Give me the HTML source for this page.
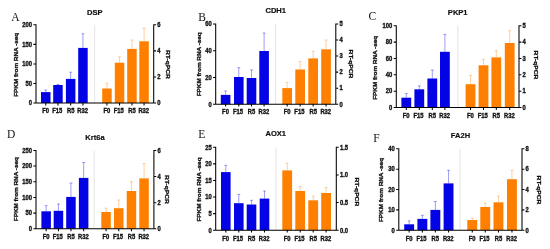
<!DOCTYPE html>
<html><head><meta charset="utf-8"><title>Figure</title>
<style>
html,body{margin:0;padding:0;background:#fff;}
svg{display:block;}
text{font-family:"Liberation Sans",Arial,sans-serif;font-weight:bold;fill:#111;stroke:#111;stroke-width:0.3px;}
.t{font-size:5.85px;}
.l{font-size:5.8px;}
.h{font-size:7.55px;stroke-width:0.2px;}
.s{font-family:"Liberation Serif","Times New Roman",serif;font-weight:normal;font-size:11.5px;fill:#111;stroke:none;}
</style></head><body>
<svg width="550" height="249" viewBox="0 0 550 249">
<rect width="550" height="249" fill="#fff"/>
<g>
<line x1="94.6" y1="24.8" x2="94.6" y2="103" stroke="#e6e6e6" stroke-width="1.1"/>
<path d="M45.75 92.1V90M44.3 90H47.2" stroke="#0303e6" stroke-width="0.55" fill="none" opacity="0.7"/>
<rect x="41" y="92.1" width="9.5" height="10.9" fill="#0303e6"/>
<path d="M57.95 85V84.5M56.5 84.5H59.4" stroke="#0303e6" stroke-width="0.55" fill="none" opacity="0.7"/>
<rect x="53.2" y="85" width="9.5" height="18" fill="#0303e6"/>
<path d="M70.65 78.9V72.2M69.2 72.2H72.1" stroke="#0303e6" stroke-width="0.55" fill="none" opacity="0.7"/>
<rect x="65.9" y="78.9" width="9.5" height="24.1" fill="#0303e6"/>
<path d="M82.95 47.9V33.8M81.5 33.8H84.4" stroke="#0303e6" stroke-width="0.55" fill="none" opacity="0.7"/>
<rect x="78.2" y="47.9" width="9.5" height="55.1" fill="#0303e6"/>
<path d="M106.95 88.5V83.3M105.5 83.3H108.4" stroke="#ff8000" stroke-width="0.55" fill="none" opacity="0.7"/>
<rect x="102.2" y="88.5" width="9.5" height="14.5" fill="#ff8000"/>
<path d="M119.55 62.7V56.8M118.1 56.8H121" stroke="#ff8000" stroke-width="0.55" fill="none" opacity="0.7"/>
<rect x="114.8" y="62.7" width="9.5" height="40.3" fill="#ff8000"/>
<path d="M131.95 48.9V40M130.5 40H133.4" stroke="#ff8000" stroke-width="0.55" fill="none" opacity="0.7"/>
<rect x="127.2" y="48.9" width="9.5" height="54.1" fill="#ff8000"/>
<path d="M144.05 41.25V28.2M142.6 28.2H145.5" stroke="#ff8000" stroke-width="0.55" fill="none" opacity="0.7"/>
<rect x="139.3" y="41.25" width="9.5" height="61.75" fill="#ff8000"/>
<path d="M36 24.3V103H153.7V24.3M36 103h-2.6M36 83.45h-2.6M36 63.9h-2.6M36 44.35h-2.6M36 24.8h-2.6M153.7 103h2.4M153.7 76.93h2.4M153.7 50.87h2.4M153.7 24.8h2.4M45.75 103v2.4M57.95 103v2.4M70.65 103v2.4M82.95 103v2.4M106.95 103v2.4M119.55 103v2.4M131.95 103v2.4M144.05 103v2.4" stroke="#000" stroke-width="1.05" fill="none"/>
<text class="t" transform="translate(32 105.3) scale(1 1.1)" text-anchor="end">0</text>
<text class="t" transform="translate(32 85.75) scale(1 1.1)" text-anchor="end">50</text>
<text class="t" transform="translate(32 66.2) scale(1 1.1)" text-anchor="end">100</text>
<text class="t" transform="translate(32 46.65) scale(1 1.1)" text-anchor="end">150</text>
<text class="t" transform="translate(32 27.1) scale(1 1.1)" text-anchor="end">200</text>
<text class="t" transform="translate(157.3 105.3) scale(1 1.1)">0</text>
<text class="t" transform="translate(157.3 79.23) scale(1 1.1)">2</text>
<text class="t" transform="translate(157.3 53.17) scale(1 1.1)">4</text>
<text class="t" transform="translate(157.3 27.1) scale(1 1.1)">6</text>
<text class="t" transform="translate(45.65 112.9) scale(1 1.1)" text-anchor="middle">F0</text>
<text class="t" transform="translate(57.15 112.9) scale(1 1.1)" text-anchor="middle">F15</text>
<text class="t" transform="translate(70.65 112.9) scale(1 1.1)" text-anchor="middle">R5</text>
<text class="t" transform="translate(82.65 112.9) scale(1 1.1)" text-anchor="middle">R32</text>
<text class="t" transform="translate(106.85 112.9) scale(1 1.1)" text-anchor="middle">F0</text>
<text class="t" transform="translate(118.75 112.9) scale(1 1.1)" text-anchor="middle">F15</text>
<text class="t" transform="translate(131.95 112.9) scale(1 1.1)" text-anchor="middle">R5</text>
<text class="t" transform="translate(143.75 112.9) scale(1 1.1)" text-anchor="middle">R32</text>
<text class="l" text-anchor="middle" transform="translate(18.1 64.8) scale(1 1.1) rotate(-90)">FPKM from RNA -seq</text>
<text class="l" style="font-size:6.05px" text-anchor="middle" transform="translate(165.9 64.4) scale(1 1.1) rotate(90)">RT-qPCR</text>
<text class="h" transform="translate(94.8 14.5) scale(1 1.07)" text-anchor="middle">DSP</text>
<text class="s" x="11.3" y="20.6">A</text>
</g>
<g>
<line x1="275.6" y1="24" x2="275.6" y2="104.2" stroke="#e6e6e6" stroke-width="1.1"/>
<path d="M225.6 94.9V91M224.15 91H227.05" stroke="#0303e6" stroke-width="0.55" fill="none" opacity="0.7"/>
<rect x="220.8" y="94.9" width="9.6" height="9.3" fill="#0303e6"/>
<path d="M238.8 77V67.7M237.35 67.7H240.25" stroke="#0303e6" stroke-width="0.55" fill="none" opacity="0.7"/>
<rect x="234" y="77" width="9.6" height="27.2" fill="#0303e6"/>
<path d="M251.5 78V69.9M250.05 69.9H252.95" stroke="#0303e6" stroke-width="0.55" fill="none" opacity="0.7"/>
<rect x="246.7" y="78" width="9.6" height="26.2" fill="#0303e6"/>
<path d="M264.1 51V33M262.65 33H265.55" stroke="#0303e6" stroke-width="0.55" fill="none" opacity="0.7"/>
<rect x="259.3" y="51" width="9.6" height="53.2" fill="#0303e6"/>
<path d="M287.15 88.1V82.5M285.7 82.5H288.6" stroke="#ff8000" stroke-width="0.55" fill="none" opacity="0.7"/>
<rect x="282.3" y="88.1" width="9.7" height="16.1" fill="#ff8000"/>
<path d="M300.15 69.5V61.4M298.7 61.4H301.6" stroke="#ff8000" stroke-width="0.55" fill="none" opacity="0.7"/>
<rect x="295.3" y="69.5" width="9.7" height="34.7" fill="#ff8000"/>
<path d="M313.15 58.4V51.3M311.7 51.3H314.6" stroke="#ff8000" stroke-width="0.55" fill="none" opacity="0.7"/>
<rect x="308.3" y="58.4" width="9.7" height="45.8" fill="#ff8000"/>
<path d="M326.05 49.3V40M324.6 40H327.5" stroke="#ff8000" stroke-width="0.55" fill="none" opacity="0.7"/>
<rect x="321.2" y="49.3" width="9.7" height="54.9" fill="#ff8000"/>
<path d="M215.7 23.5V104.2H335.8V23.5M215.7 104.2h-2.6M215.7 77.47h-2.6M215.7 50.73h-2.6M215.7 24h-2.6M335.8 104.2h2.4M335.8 88.16h2.4M335.8 72.12h2.4M335.8 56.08h2.4M335.8 40.04h2.4M335.8 24h2.4M225.6 104.2v2.4M238.8 104.2v2.4M251.5 104.2v2.4M264.1 104.2v2.4M287.15 104.2v2.4M300.15 104.2v2.4M313.15 104.2v2.4M326.05 104.2v2.4" stroke="#000" stroke-width="1.05" fill="none"/>
<text class="t" transform="translate(211.7 106.5) scale(1 1.1)" text-anchor="end">0</text>
<text class="t" transform="translate(211.7 79.77) scale(1 1.1)" text-anchor="end">20</text>
<text class="t" transform="translate(211.7 53.03) scale(1 1.1)" text-anchor="end">40</text>
<text class="t" transform="translate(211.7 26.3) scale(1 1.1)" text-anchor="end">60</text>
<text class="t" transform="translate(339.4 106.5) scale(1 1.1)">0</text>
<text class="t" transform="translate(339.4 90.46) scale(1 1.1)">1</text>
<text class="t" transform="translate(339.4 74.42) scale(1 1.1)">2</text>
<text class="t" transform="translate(339.4 58.38) scale(1 1.1)">3</text>
<text class="t" transform="translate(339.4 42.34) scale(1 1.1)">4</text>
<text class="t" transform="translate(339.4 26.3) scale(1 1.1)">5</text>
<text class="t" transform="translate(225.5 113.8) scale(1 1.1)" text-anchor="middle">F0</text>
<text class="t" transform="translate(238 113.8) scale(1 1.1)" text-anchor="middle">F15</text>
<text class="t" transform="translate(251.5 113.8) scale(1 1.1)" text-anchor="middle">R5</text>
<text class="t" transform="translate(263.8 113.8) scale(1 1.1)" text-anchor="middle">R32</text>
<text class="t" transform="translate(287.05 113.8) scale(1 1.1)" text-anchor="middle">F0</text>
<text class="t" transform="translate(299.35 113.8) scale(1 1.1)" text-anchor="middle">F15</text>
<text class="t" transform="translate(313.15 113.8) scale(1 1.1)" text-anchor="middle">R5</text>
<text class="t" transform="translate(325.75 113.8) scale(1 1.1)" text-anchor="middle">R32</text>
<text class="l" text-anchor="middle" transform="translate(200.8 64.3) scale(1 1.1) rotate(-90)">FPKM from RNA -seq</text>
<text class="l" style="font-size:6.05px" text-anchor="middle" transform="translate(348.5 64) scale(1 1.1) rotate(90)">RT-qPCR</text>
<text class="h" transform="translate(275.7 12.8) scale(1 1.07)" text-anchor="middle">CDH1</text>
<text class="s" x="198.3" y="20.6">B</text>
</g>
<g>
<line x1="457.8" y1="25.8" x2="457.8" y2="107.5" stroke="#e6e6e6" stroke-width="1.1"/>
<path d="M406.3 97.7V93.5M404.85 93.5H407.75" stroke="#0303e6" stroke-width="0.55" fill="none" opacity="0.7"/>
<rect x="401.4" y="97.7" width="9.8" height="9.8" fill="#0303e6"/>
<path d="M419.3 89.3V85.9M417.85 85.9H420.75" stroke="#0303e6" stroke-width="0.55" fill="none" opacity="0.7"/>
<rect x="414.4" y="89.3" width="9.8" height="18.2" fill="#0303e6"/>
<path d="M432.3 78.5V70M430.85 70H433.75" stroke="#0303e6" stroke-width="0.55" fill="none" opacity="0.7"/>
<rect x="427.4" y="78.5" width="9.8" height="29" fill="#0303e6"/>
<path d="M444.9 51.8V34.4M443.45 34.4H446.35" stroke="#0303e6" stroke-width="0.55" fill="none" opacity="0.7"/>
<rect x="440" y="51.8" width="9.8" height="55.7" fill="#0303e6"/>
<path d="M470.5 84.2V75.5M469.05 75.5H471.95" stroke="#ff8000" stroke-width="0.55" fill="none" opacity="0.7"/>
<rect x="465.6" y="84.2" width="9.8" height="23.3" fill="#ff8000"/>
<path d="M483.5 65.3V59.4M482.05 59.4H484.95" stroke="#ff8000" stroke-width="0.55" fill="none" opacity="0.7"/>
<rect x="478.6" y="65.3" width="9.8" height="42.2" fill="#ff8000"/>
<path d="M496.3 57.4V50.6M494.85 50.6H497.75" stroke="#ff8000" stroke-width="0.55" fill="none" opacity="0.7"/>
<rect x="491.4" y="57.4" width="9.8" height="50.1" fill="#ff8000"/>
<path d="M509.7 43V30.7M508.25 30.7H511.15" stroke="#ff8000" stroke-width="0.55" fill="none" opacity="0.7"/>
<rect x="504.8" y="43" width="9.8" height="64.5" fill="#ff8000"/>
<path d="M396.3 25.3V107.5H519V25.3M396.3 107.5h-2.6M396.3 91.16h-2.6M396.3 74.82h-2.6M396.3 58.48h-2.6M396.3 42.14h-2.6M396.3 25.8h-2.6M519 107.5h2.4M519 91.16h2.4M519 74.82h2.4M519 58.48h2.4M519 42.14h2.4M519 25.8h2.4M406.3 107.5v2.4M419.3 107.5v2.4M432.3 107.5v2.4M444.9 107.5v2.4M470.5 107.5v2.4M483.5 107.5v2.4M496.3 107.5v2.4M509.7 107.5v2.4" stroke="#000" stroke-width="1.05" fill="none"/>
<text class="t" transform="translate(392.3 109.8) scale(1 1.1)" text-anchor="end">0</text>
<text class="t" transform="translate(392.3 93.46) scale(1 1.1)" text-anchor="end">20</text>
<text class="t" transform="translate(392.3 77.12) scale(1 1.1)" text-anchor="end">40</text>
<text class="t" transform="translate(392.3 60.78) scale(1 1.1)" text-anchor="end">60</text>
<text class="t" transform="translate(392.3 44.44) scale(1 1.1)" text-anchor="end">80</text>
<text class="t" transform="translate(392.3 28.1) scale(1 1.1)" text-anchor="end">100</text>
<text class="t" transform="translate(522.6 109.8) scale(1 1.1)">0</text>
<text class="t" transform="translate(522.6 93.46) scale(1 1.1)">1</text>
<text class="t" transform="translate(522.6 77.12) scale(1 1.1)">2</text>
<text class="t" transform="translate(522.6 60.78) scale(1 1.1)">3</text>
<text class="t" transform="translate(522.6 44.44) scale(1 1.1)">4</text>
<text class="t" transform="translate(522.6 28.1) scale(1 1.1)">5</text>
<text class="t" transform="translate(406.2 117.5) scale(1 1.1)" text-anchor="middle">F0</text>
<text class="t" transform="translate(418.5 117.5) scale(1 1.1)" text-anchor="middle">F15</text>
<text class="t" transform="translate(432.3 117.5) scale(1 1.1)" text-anchor="middle">R5</text>
<text class="t" transform="translate(444.6 117.5) scale(1 1.1)" text-anchor="middle">R32</text>
<text class="t" transform="translate(470.4 117.5) scale(1 1.1)" text-anchor="middle">F0</text>
<text class="t" transform="translate(482.7 117.5) scale(1 1.1)" text-anchor="middle">F15</text>
<text class="t" transform="translate(496.3 117.5) scale(1 1.1)" text-anchor="middle">R5</text>
<text class="t" transform="translate(509.4 117.5) scale(1 1.1)" text-anchor="middle">R32</text>
<text class="l" text-anchor="middle" transform="translate(377.4 67.8) scale(1 1.1) rotate(-90)">FPKM from RNA -seq</text>
<text class="l" style="font-size:6.05px" text-anchor="middle" transform="translate(533.9 65) scale(1 1.1) rotate(90)">RT-qPCR</text>
<text class="h" transform="translate(457.7 14.6) scale(1 1.07)" text-anchor="middle">PKP1</text>
<text class="s" x="368.6" y="20.1">C</text>
</g>
<g>
<line x1="94.2" y1="150.4" x2="94.2" y2="228.8" stroke="#e6e6e6" stroke-width="1.1"/>
<path d="M46.15 211.3V205.7M44.7 205.7H47.6" stroke="#0303e6" stroke-width="0.55" fill="none" opacity="0.7"/>
<rect x="41.4" y="211.3" width="9.5" height="17.5" fill="#0303e6"/>
<path d="M58.45 210.8V204M57 204H59.9" stroke="#0303e6" stroke-width="0.55" fill="none" opacity="0.7"/>
<rect x="53.7" y="210.8" width="9.5" height="18" fill="#0303e6"/>
<path d="M70.95 196.9V183.1M69.5 183.1H72.4" stroke="#0303e6" stroke-width="0.55" fill="none" opacity="0.7"/>
<rect x="66.2" y="196.9" width="9.5" height="31.9" fill="#0303e6"/>
<path d="M83.65 177.9V162.5M82.2 162.5H85.1" stroke="#0303e6" stroke-width="0.55" fill="none" opacity="0.7"/>
<rect x="78.9" y="177.9" width="9.5" height="50.9" fill="#0303e6"/>
<path d="M106.05 212V208.2M104.6 208.2H107.5" stroke="#ff8000" stroke-width="0.55" fill="none" opacity="0.7"/>
<rect x="101.3" y="212" width="9.5" height="16.8" fill="#ff8000"/>
<path d="M118.75 208.2V200M117.3 200H120.2" stroke="#ff8000" stroke-width="0.55" fill="none" opacity="0.7"/>
<rect x="114" y="208.2" width="9.5" height="20.6" fill="#ff8000"/>
<path d="M131.45 191V181.7M130 181.7H132.9" stroke="#ff8000" stroke-width="0.55" fill="none" opacity="0.7"/>
<rect x="126.7" y="191" width="9.5" height="37.8" fill="#ff8000"/>
<path d="M144.05 178.4V163.5M142.6 163.5H145.5" stroke="#ff8000" stroke-width="0.55" fill="none" opacity="0.7"/>
<rect x="139.3" y="178.4" width="9.5" height="50.4" fill="#ff8000"/>
<path d="M36 149.9V228.8H153.9V149.9M36 228.8h-2.6M36 213.12h-2.6M36 197.44h-2.6M36 181.76h-2.6M36 166.08h-2.6M36 150.4h-2.6M153.9 228.8h2.4M153.9 202.67h2.4M153.9 176.53h2.4M153.9 150.4h2.4M46.15 228.8v2.4M58.45 228.8v2.4M70.95 228.8v2.4M83.65 228.8v2.4M106.05 228.8v2.4M118.75 228.8v2.4M131.45 228.8v2.4M144.05 228.8v2.4" stroke="#000" stroke-width="1.05" fill="none"/>
<text class="t" transform="translate(32 231.1) scale(1 1.1)" text-anchor="end">0</text>
<text class="t" transform="translate(32 215.42) scale(1 1.1)" text-anchor="end">50</text>
<text class="t" transform="translate(32 199.74) scale(1 1.1)" text-anchor="end">100</text>
<text class="t" transform="translate(32 184.06) scale(1 1.1)" text-anchor="end">150</text>
<text class="t" transform="translate(32 168.38) scale(1 1.1)" text-anchor="end">200</text>
<text class="t" transform="translate(32 152.7) scale(1 1.1)" text-anchor="end">250</text>
<text class="t" transform="translate(157.5 231.1) scale(1 1.1)">0</text>
<text class="t" transform="translate(157.5 204.97) scale(1 1.1)">2</text>
<text class="t" transform="translate(157.5 178.83) scale(1 1.1)">4</text>
<text class="t" transform="translate(157.5 152.7) scale(1 1.1)">6</text>
<text class="t" transform="translate(46.05 238.7) scale(1 1.1)" text-anchor="middle">F0</text>
<text class="t" transform="translate(57.65 238.7) scale(1 1.1)" text-anchor="middle">F15</text>
<text class="t" transform="translate(70.95 238.7) scale(1 1.1)" text-anchor="middle">R5</text>
<text class="t" transform="translate(83.35 238.7) scale(1 1.1)" text-anchor="middle">R32</text>
<text class="t" transform="translate(105.95 238.7) scale(1 1.1)" text-anchor="middle">F0</text>
<text class="t" transform="translate(117.95 238.7) scale(1 1.1)" text-anchor="middle">F15</text>
<text class="t" transform="translate(131.45 238.7) scale(1 1.1)" text-anchor="middle">R5</text>
<text class="t" transform="translate(143.75 238.7) scale(1 1.1)" text-anchor="middle">R32</text>
<text class="l" text-anchor="middle" transform="translate(18.1 189.2) scale(1 1.1) rotate(-90)">FPKM from RNA -seq</text>
<text class="l" style="font-size:6.05px" text-anchor="middle" transform="translate(165.4 189.5) scale(1 1.1) rotate(90)">RT-qPCR</text>
<text class="h" transform="translate(95 140) scale(1 1.07)" text-anchor="middle">Krt6a</text>
<text class="s" x="7" y="137.5">D</text>
</g>
<g>
<line x1="275.9" y1="147.3" x2="275.9" y2="230.2" stroke="#e6e6e6" stroke-width="1.1"/>
<path d="M225.8 172.1V165.4M224.35 165.4H227.25" stroke="#0303e6" stroke-width="0.55" fill="none" opacity="0.7"/>
<rect x="221" y="172.1" width="9.6" height="58.1" fill="#0303e6"/>
<path d="M238.8 203.2V194.4M237.35 194.4H240.25" stroke="#0303e6" stroke-width="0.55" fill="none" opacity="0.7"/>
<rect x="234" y="203.2" width="9.6" height="27" fill="#0303e6"/>
<path d="M251.5 204.5V200.3M250.05 200.3H252.95" stroke="#0303e6" stroke-width="0.55" fill="none" opacity="0.7"/>
<rect x="246.7" y="204.5" width="9.6" height="25.7" fill="#0303e6"/>
<path d="M264.5 198.6V191M263.05 191H265.95" stroke="#0303e6" stroke-width="0.55" fill="none" opacity="0.7"/>
<rect x="259.7" y="198.6" width="9.6" height="31.6" fill="#0303e6"/>
<path d="M287.2 170.4V163.2M285.75 163.2H288.65" stroke="#ff8000" stroke-width="0.55" fill="none" opacity="0.7"/>
<rect x="282.3" y="170.4" width="9.8" height="59.8" fill="#ff8000"/>
<path d="M300.2 191V186.3M298.75 186.3H301.65" stroke="#ff8000" stroke-width="0.55" fill="none" opacity="0.7"/>
<rect x="295.3" y="191" width="9.8" height="39.2" fill="#ff8000"/>
<path d="M313.2 200.3V196.1M311.75 196.1H314.65" stroke="#ff8000" stroke-width="0.55" fill="none" opacity="0.7"/>
<rect x="308.3" y="200.3" width="9.8" height="29.9" fill="#ff8000"/>
<path d="M326.1 193V187.6M324.65 187.6H327.55" stroke="#ff8000" stroke-width="0.55" fill="none" opacity="0.7"/>
<rect x="321.2" y="193" width="9.8" height="37.2" fill="#ff8000"/>
<path d="M215.7 146.8V230.2H336.3V146.8M215.7 230.2h-2.6M215.7 213.62h-2.6M215.7 197.04h-2.6M215.7 180.46h-2.6M215.7 163.88h-2.6M215.7 147.3h-2.6M336.3 230.2h2.4M336.3 202.57h2.4M336.3 174.93h2.4M336.3 147.3h2.4M225.8 230.2v2.4M238.8 230.2v2.4M251.5 230.2v2.4M264.5 230.2v2.4M287.2 230.2v2.4M300.2 230.2v2.4M313.2 230.2v2.4M326.1 230.2v2.4" stroke="#000" stroke-width="1.05" fill="none"/>
<text class="t" transform="translate(211.7 232.5) scale(1 1.1)" text-anchor="end">0</text>
<text class="t" transform="translate(211.7 215.92) scale(1 1.1)" text-anchor="end">5</text>
<text class="t" transform="translate(211.7 199.34) scale(1 1.1)" text-anchor="end">10</text>
<text class="t" transform="translate(211.7 182.76) scale(1 1.1)" text-anchor="end">15</text>
<text class="t" transform="translate(211.7 166.18) scale(1 1.1)" text-anchor="end">20</text>
<text class="t" transform="translate(211.7 149.6) scale(1 1.1)" text-anchor="end">25</text>
<text class="t" transform="translate(339.9 232.5) scale(1 1.1)">0.0</text>
<text class="t" transform="translate(339.9 204.87) scale(1 1.1)">0.5</text>
<text class="t" transform="translate(339.9 177.23) scale(1 1.1)">1.0</text>
<text class="t" transform="translate(339.9 149.6) scale(1 1.1)">1.5</text>
<text class="t" transform="translate(225.7 240.7) scale(1 1.1)" text-anchor="middle">F0</text>
<text class="t" transform="translate(238 240.7) scale(1 1.1)" text-anchor="middle">F15</text>
<text class="t" transform="translate(251.5 240.7) scale(1 1.1)" text-anchor="middle">R5</text>
<text class="t" transform="translate(264.2 240.7) scale(1 1.1)" text-anchor="middle">R32</text>
<text class="t" transform="translate(287.1 240.7) scale(1 1.1)" text-anchor="middle">F0</text>
<text class="t" transform="translate(299.4 240.7) scale(1 1.1)" text-anchor="middle">F15</text>
<text class="t" transform="translate(313.2 240.7) scale(1 1.1)" text-anchor="middle">R5</text>
<text class="t" transform="translate(325.8 240.7) scale(1 1.1)" text-anchor="middle">R32</text>
<text class="l" text-anchor="middle" transform="translate(200.5 189.5) scale(1 1.1) rotate(-90)">FPKM from RNA -seq</text>
<text class="l" style="font-size:6.05px" text-anchor="middle" transform="translate(354.5 191.8) scale(1 1.1) rotate(90)">RT-qPCR</text>
<text class="h" transform="translate(275.7 136) scale(1 1.07)" text-anchor="middle">AOX1</text>
<text class="s" x="198.3" y="138.4">E</text>
</g>
<g>
<line x1="460" y1="148.8" x2="460" y2="230.2" stroke="#e6e6e6" stroke-width="1.1"/>
<path d="M409.15 224.3V220.9M407.7 220.9H410.6" stroke="#0303e6" stroke-width="0.55" fill="none" opacity="0.7"/>
<rect x="404.2" y="224.3" width="9.9" height="5.9" fill="#0303e6"/>
<path d="M422.35 218.9V215.3M420.9 215.3H423.8" stroke="#0303e6" stroke-width="0.55" fill="none" opacity="0.7"/>
<rect x="417.4" y="218.9" width="9.9" height="11.3" fill="#0303e6"/>
<path d="M435.35 209.9V201.5M433.9 201.5H436.8" stroke="#0303e6" stroke-width="0.55" fill="none" opacity="0.7"/>
<rect x="430.4" y="209.9" width="9.9" height="20.3" fill="#0303e6"/>
<path d="M448.55 183.4V170.4M447.1 170.4H450" stroke="#0303e6" stroke-width="0.55" fill="none" opacity="0.7"/>
<rect x="443.6" y="183.4" width="9.9" height="46.8" fill="#0303e6"/>
<path d="M472.25 220V218.4M470.8 218.4H473.7" stroke="#ff8000" stroke-width="0.55" fill="none" opacity="0.7"/>
<rect x="467.3" y="220" width="9.9" height="10.2" fill="#ff8000"/>
<path d="M485.25 207V203.2M483.8 203.2H486.7" stroke="#ff8000" stroke-width="0.55" fill="none" opacity="0.7"/>
<rect x="480.3" y="207" width="9.9" height="23.2" fill="#ff8000"/>
<path d="M498.45 202.3V196.1M497 196.1H499.9" stroke="#ff8000" stroke-width="0.55" fill="none" opacity="0.7"/>
<rect x="493.5" y="202.3" width="9.9" height="27.9" fill="#ff8000"/>
<path d="M511.95 179.2V170.4M510.5 170.4H513.4" stroke="#ff8000" stroke-width="0.55" fill="none" opacity="0.7"/>
<rect x="507" y="179.2" width="9.9" height="51" fill="#ff8000"/>
<path d="M398.8 148.3V230.2H522V148.3M398.8 230.2h-2.6M398.8 209.85h-2.6M398.8 189.5h-2.6M398.8 169.15h-2.6M398.8 148.8h-2.6M522 230.2h2.4M522 209.85h2.4M522 189.5h2.4M522 169.15h2.4M522 148.8h2.4M409.15 230.2v2.4M422.35 230.2v2.4M435.35 230.2v2.4M448.55 230.2v2.4M472.25 230.2v2.4M485.25 230.2v2.4M498.45 230.2v2.4M511.95 230.2v2.4" stroke="#000" stroke-width="1.05" fill="none"/>
<text class="t" transform="translate(394.8 232.5) scale(1 1.1)" text-anchor="end">0</text>
<text class="t" transform="translate(394.8 212.15) scale(1 1.1)" text-anchor="end">10</text>
<text class="t" transform="translate(394.8 191.8) scale(1 1.1)" text-anchor="end">20</text>
<text class="t" transform="translate(394.8 171.45) scale(1 1.1)" text-anchor="end">30</text>
<text class="t" transform="translate(394.8 151.1) scale(1 1.1)" text-anchor="end">40</text>
<text class="t" transform="translate(525.6 232.5) scale(1 1.1)">0</text>
<text class="t" transform="translate(525.6 212.15) scale(1 1.1)">2</text>
<text class="t" transform="translate(525.6 191.8) scale(1 1.1)">4</text>
<text class="t" transform="translate(525.6 171.45) scale(1 1.1)">6</text>
<text class="t" transform="translate(525.6 151.1) scale(1 1.1)">8</text>
<text class="t" transform="translate(409.05 240.7) scale(1 1.1)" text-anchor="middle">F0</text>
<text class="t" transform="translate(421.55 240.7) scale(1 1.1)" text-anchor="middle">F15</text>
<text class="t" transform="translate(435.35 240.7) scale(1 1.1)" text-anchor="middle">R5</text>
<text class="t" transform="translate(448.25 240.7) scale(1 1.1)" text-anchor="middle">R32</text>
<text class="t" transform="translate(472.15 240.7) scale(1 1.1)" text-anchor="middle">F0</text>
<text class="t" transform="translate(484.45 240.7) scale(1 1.1)" text-anchor="middle">F15</text>
<text class="t" transform="translate(498.45 240.7) scale(1 1.1)" text-anchor="middle">R5</text>
<text class="t" transform="translate(511.65 240.7) scale(1 1.1)" text-anchor="middle">R32</text>
<text class="l" text-anchor="middle" transform="translate(383.1 190) scale(1 1.1) rotate(-90)">FPKM from RNA -seq</text>
<text class="l" style="font-size:6.05px" text-anchor="middle" transform="translate(536.5 190) scale(1 1.1) rotate(90)">RT-qPCR</text>
<text class="h" transform="translate(460.5 137.6) scale(1 1.07)" text-anchor="middle">FA2H</text>
<text class="s" x="373.3" y="141.7">F</text>
</g>
</svg>
</body></html>
